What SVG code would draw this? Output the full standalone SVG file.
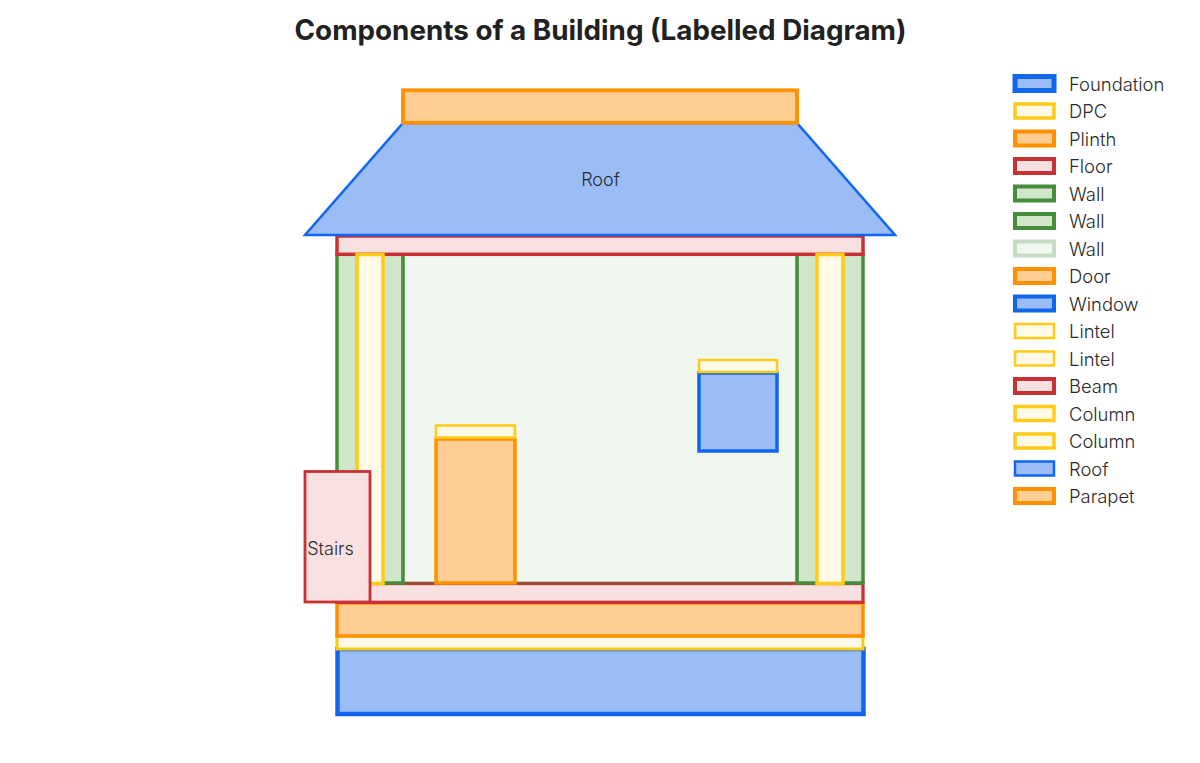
<svg xmlns="http://www.w3.org/2000/svg" width="1200" height="763" viewBox="0 0 1200 763">
<style>
text{font-family:"Inter","Liberation Sans",sans-serif;fill:#2a2a2a}
.t{font-size:27.800px;font-weight:700;text-anchor:middle;fill:#212121}
.l{font-size:18px;font-weight:300}
.k{font-size:18.400px;font-weight:300}
.c{text-anchor:middle;dominant-baseline:central}
.b{fill:#9abcf7;stroke:#1066ee}
.y{fill:#fff9e8;stroke:#ffcb14}
.o{fill:#ffcd92;stroke:#ff9100}
.r{fill:#f9e0e1;stroke:#c93135}
.g{fill:#cfe6cb;stroke:#478c3c}
.f{opacity:.3}
</style>
<rect width="1200" height="763" fill="#fff"/>
<text class="t" x="600.500" y="40">Components of a Building (Labelled Diagram)</text>
<g id="foundation"><rect class="b" x="337.500" y="649" width="526" height="65" stroke-width="4.500"/></g>
<g id="dpc"><rect class="y" x="337" y="636" width="526" height="13" stroke-width="3"/></g>
<g id="plinth"><rect class="o" x="337" y="603" width="526" height="33" stroke-width="3.500"/></g>
<g id="floor"><rect class="r" x="337" y="583.500" width="526" height="18.800" stroke-width="3.300"/></g>
<g id="wall-left"><rect class="g" x="337" y="254" width="66" height="329" stroke-width="3.500"/></g>
<g id="wall-right"><rect class="g" x="797" y="254" width="66" height="329" stroke-width="3.500"/></g>
<g id="wall-interior"><rect class="g f" x="403" y="254" width="394" height="329" stroke-width="3.500"/></g>
<g id="door"><rect class="o" x="436" y="439" width="79" height="144" stroke-width="3.500"/></g>
<g id="window"><rect class="b" x="699" y="373" width="78" height="78" stroke-width="3.500"/></g>
<g id="lintel-door"><rect class="y" x="436" y="425.500" width="79" height="12" stroke-width="2.500"/></g>
<g id="lintel-window"><rect class="y" x="699" y="360" width="78" height="12" stroke-width="2.500"/></g>
<g id="beam"><rect class="r" x="337" y="236" width="526" height="18.300" stroke-width="3.500"/></g>
<g id="column-left"><rect class="y" x="357" y="254.500" width="26" height="329" stroke-width="3.500"/></g>
<g id="column-right"><rect class="y" x="817" y="254.500" width="26" height="329" stroke-width="3.500"/></g>
<g id="roof"><polygon class="b" points="403,123 797,123 895,235 305,235" stroke-width="2.500"/><text class="l c" x="600.500" y="179">Roof</text></g>
<g id="parapet"><rect class="o" x="403" y="90.300" width="394" height="32.500" stroke-width="3.800"/></g>
<g id="stairs"><rect class="r" x="305" y="471.500" width="65" height="130.500" stroke-width="2.800"/><text class="l c" x="330.500" y="548.500">Stairs</text></g>
<g id="legend">
<rect class="b" x="1015" y="76.500" width="39" height="14" stroke-width="5"/><text class="k" x="1069" y="90.500">Foundation</text>
<rect class="y" x="1015" y="104" width="39" height="14" stroke-width="3.500"/><text class="k" x="1069" y="118">DPC</text>
<rect class="o" x="1015" y="131.500" width="39" height="14" stroke-width="4"/><text class="k" x="1069" y="145.500">Plinth</text>
<rect class="r" x="1015" y="159" width="39" height="14" stroke-width="4"/><text class="k" x="1069" y="173.200">Floor</text>
<rect class="g" x="1015" y="186.500" width="39" height="14" stroke-width="4"/><text class="k" x="1069" y="200.500">Wall</text>
<rect class="g" x="1015" y="214" width="39" height="14" stroke-width="4"/><text class="k" x="1069" y="228">Wall</text>
<rect class="g f" x="1015" y="241.500" width="39" height="14" stroke-width="4"/><text class="k" x="1069" y="255.500">Wall</text>
<rect class="o" x="1015" y="269" width="39" height="14" stroke-width="4"/><text class="k" x="1069" y="283">Door</text>
<rect class="b" x="1015" y="296.500" width="39" height="14" stroke-width="4"/><text class="k" x="1069" y="310.500">Window</text>
<rect class="y" x="1015" y="324" width="39" height="14" stroke-width="2.500"/><text class="k" x="1069" y="338">Lintel</text>
<rect class="y" x="1015" y="351.500" width="39" height="14" stroke-width="2.500"/><text class="k" x="1069" y="365.500">Lintel</text>
<rect class="r" x="1015" y="379" width="39" height="14" stroke-width="4"/><text class="k" x="1069" y="393">Beam</text>
<rect class="y" x="1015" y="406.500" width="39" height="14" stroke-width="3.500"/><text class="k" x="1069" y="420.500">Column</text>
<rect class="y" x="1015" y="434" width="39" height="14" stroke-width="3.500"/><text class="k" x="1069" y="448">Column</text>
<rect class="b" x="1015" y="461.500" width="39" height="14" stroke-width="2.500"/><text class="k" x="1069" y="475.500">Roof</text>
<rect class="o" x="1015" y="489" width="39" height="14" stroke-width="4"/><text class="k" x="1069" y="503">Parapet</text>
</g>
</svg>
